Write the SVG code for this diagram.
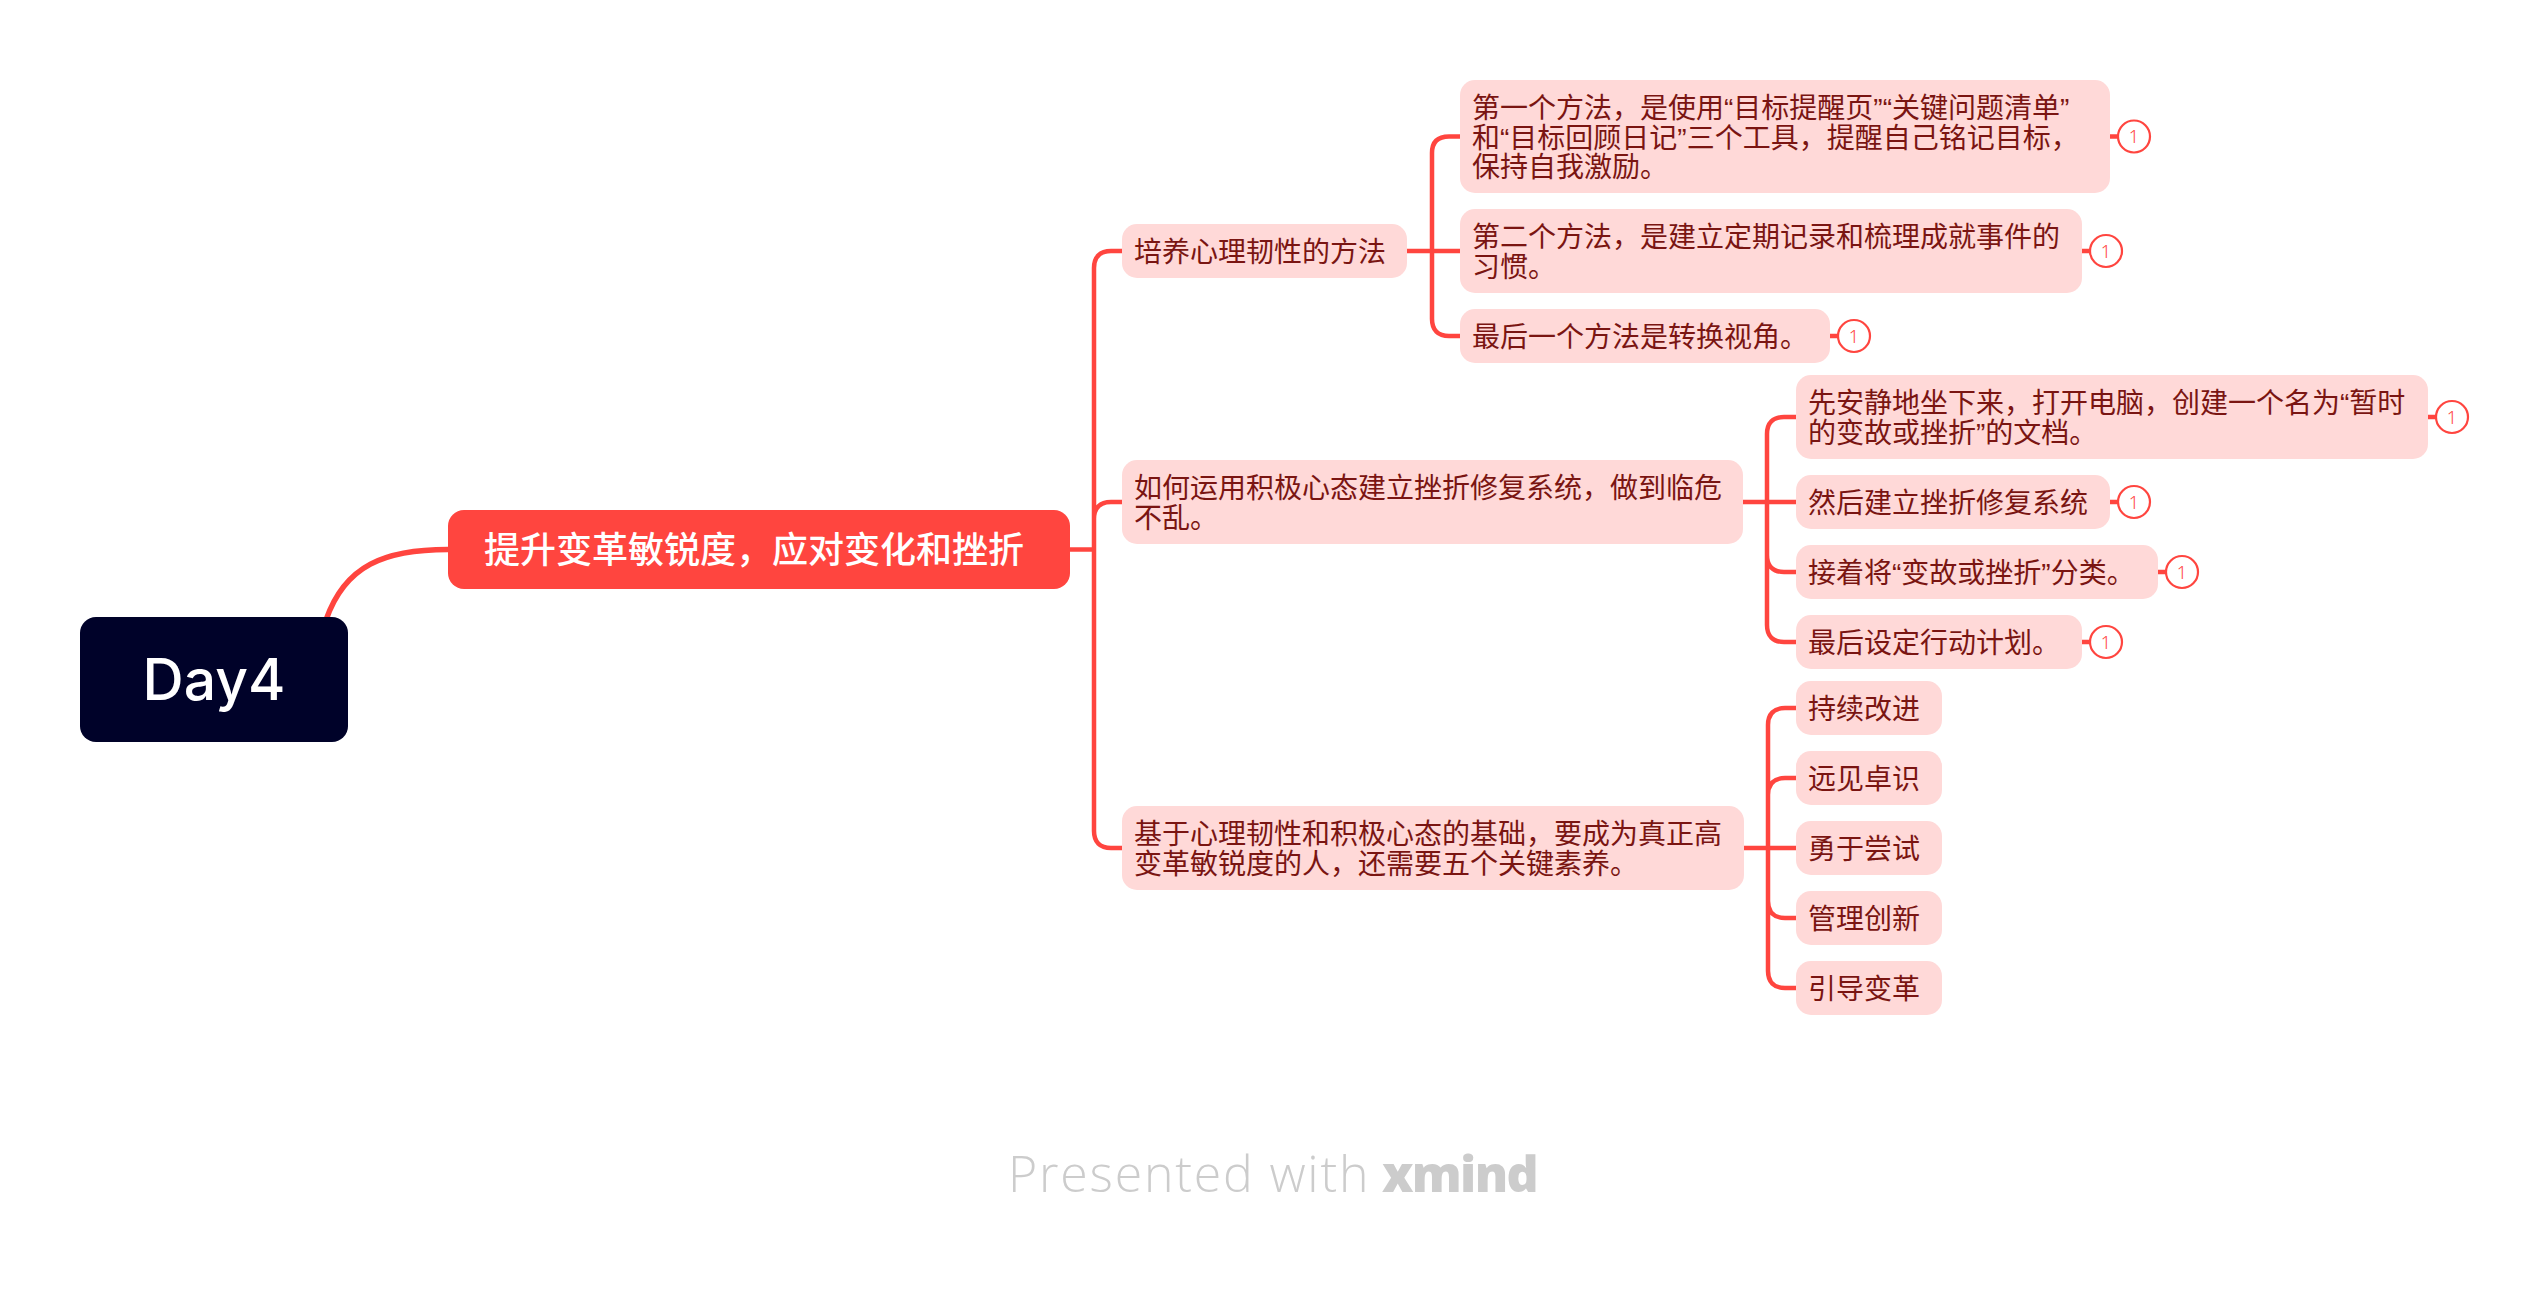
<svg xmlns="http://www.w3.org/2000/svg" width="2548" height="1295" viewBox="0 0 2548 1295">
<style>
text{font-family:"Liberation Sans","Noto Sans CJK SC",sans-serif}
.c{fill:none;stroke:#FF453F;stroke-width:4.500}
.n{fill:#FFD9D8}
.t{font-size:28px;fill:#7A1512}
.m{fill:none;stroke:#FF453F;stroke-width:2.200}
.mt{font-size:18px;fill:#FF453F;text-anchor:middle;font-family:"Noto Sans",sans-serif;font-weight:300}
</style>
<rect width="2548" height="1295" fill="#fff"/>
<g id="connectors">
<path class="c" style="stroke-width:5.500" d="M326 620C345 565 385 549.500 448 549.500"/>
<path class="c" d="M1070 549.500H1094M1122 251H1111C1100 251 1094 257 1094 268V831C1094 842 1100 848 1111 848H1122M1122 502H1111C1100 502 1094 508 1094 519V560"/>
<path class="c" d="M1407 251H1460M1460 136.500H1449C1438 136.500 1432 142 1432 153V319C1432 330 1438 336 1449 336H1460"/>
<path class="c" d="M1743 502H1796M1796 417H1784C1773 417 1767 423 1767 434V625C1767 636 1773 642 1784 642H1796M1767 555C1767 566 1773 572 1784 572H1796"/>
<path class="c" d="M1744 848H1796M1796 708H1785C1774 708 1768 714 1768 725V971C1768 982 1774 988 1785 988H1796M1796 778H1785C1774 778 1768 784 1768 795M1768 901C1768 912 1774 918 1785 918H1796"/>
<path class="c" d="M2110 136.500H2118M2082 251H2090M1830 336H1838M2428 417H2436M2110 502H2118M2158 572H2166M2082 642H2090"/>
</g>
<g id="root"><rect x="80" y="617" width="268" height="125" rx="16" fill="#000229"/><text x="214" y="700" text-anchor="middle" style="font-family:Inter,sans-serif;font-size:57px;font-weight:500" fill="#fff">Day4</text></g>
<g id="main"><rect x="448" y="510" width="622" height="79" rx="16" fill="#FF453F"/><text x="484" y="563" style="font-size:36px;font-weight:500" fill="#fff">提升变革敏锐度&#xFF0C;应对变化和挫折</text></g>
<g id="b1"><rect class="n" x="1122" y="224" width="285" height="54" rx="15"/><text class="t" x="1134" y="262">培养心理韧性的方法</text></g>
<g id="b2"><rect class="n" x="1122" y="460" width="621" height="84" rx="15"/><text class="t" x="1134" y="498">如何运用积极心态建立挫折修复系统&#xFF0C;做到临危<tspan x="1134" dy="29.500">不乱。</tspan></text></g>
<g id="b3"><rect class="n" x="1122" y="806" width="622" height="84" rx="15"/><text class="t" x="1134" y="844">基于心理韧性和积极心态的基础&#xFF0C;要成为真正高<tspan x="1134" dy="29.500">变革敏锐度的人&#xFF0C;还需要五个关键素养。</tspan></text></g>
<g id="b1-1"><rect class="n" x="1460" y="80" width="650" height="113" rx="15"/><text class="t" x="1472" y="118">第一个方法&#xFF0C;是使用“目标提醒页”“关键问题清单”<tspan x="1472" dy="29.500">和“目标回顾日记”三个工具&#xFF0C;提醒自己铭记目标&#xFF0C;</tspan><tspan x="1472" dy="29.500">保持自我激励。</tspan></text><circle class="m" cx="2134" cy="136.500" r="16"/><text class="mt" x="2134" y="143">1</text></g>
<g id="b1-2"><rect class="n" x="1460" y="209" width="622" height="84" rx="15"/><text class="t" x="1472" y="247">第二个方法&#xFF0C;是建立定期记录和梳理成就事件的<tspan x="1472" dy="29.500">习惯。</tspan></text><circle class="m" cx="2106" cy="251" r="16"/><text class="mt" x="2106" y="257.500">1</text></g>
<g id="b1-3"><rect class="n" x="1460" y="309" width="370" height="54" rx="15"/><text class="t" x="1472" y="347">最后一个方法是转换视角。</text><circle class="m" cx="1854" cy="336" r="16"/><text class="mt" x="1854" y="342.500">1</text></g>
<g id="b2-1"><rect class="n" x="1796" y="375" width="632" height="84" rx="15"/><text class="t" x="1808" y="413">先安静地坐下来&#xFF0C;打开电脑&#xFF0C;创建一个名为“暂时<tspan x="1808" dy="29.500">的变故或挫折”的文档。</tspan></text><circle class="m" cx="2452" cy="417" r="16"/><text class="mt" x="2452" y="423.500">1</text></g>
<g id="b2-2"><rect class="n" x="1796" y="475" width="314" height="54" rx="15"/><text class="t" x="1808" y="513">然后建立挫折修复系统</text><circle class="m" cx="2134" cy="502" r="16"/><text class="mt" x="2134" y="508.500">1</text></g>
<g id="b2-3"><rect class="n" x="1796" y="545" width="362" height="54" rx="15"/><text class="t" x="1808" y="583">接着将“变故或挫折”分类。</text><circle class="m" cx="2182" cy="572" r="16"/><text class="mt" x="2182" y="578.500">1</text></g>
<g id="b2-4"><rect class="n" x="1796" y="615" width="286" height="54" rx="15"/><text class="t" x="1808" y="653">最后设定行动计划。</text><circle class="m" cx="2106" cy="642" r="16"/><text class="mt" x="2106" y="648.500">1</text></g>
<g id="b3-1"><rect class="n" x="1796" y="681" width="146" height="54" rx="15"/><text class="t" x="1808" y="719">持续改进</text></g>
<g id="b3-2"><rect class="n" x="1796" y="751" width="146" height="54" rx="15"/><text class="t" x="1808" y="789">远见卓识</text></g>
<g id="b3-3"><rect class="n" x="1796" y="821" width="146" height="54" rx="15"/><text class="t" x="1808" y="859">勇于尝试</text></g>
<g id="b3-4"><rect class="n" x="1796" y="891" width="146" height="54" rx="15"/><text class="t" x="1808" y="929">管理创新</text></g>
<g id="b3-5"><rect class="n" x="1796" y="961" width="146" height="54" rx="15"/><text class="t" x="1808" y="999">引导变革</text></g>
<g id="footer" fill="#CCCCCC"><text x="1008" y="1192" style="font-family:'Open Sans',sans-serif;font-size:50px;font-weight:300;letter-spacing:1.800px">Presented with</text><text x="1382" y="1192" style="font-family:'Open Sans',sans-serif;font-size:50px;font-weight:800;letter-spacing:-1.700px">xmind</text></g>
</svg>
